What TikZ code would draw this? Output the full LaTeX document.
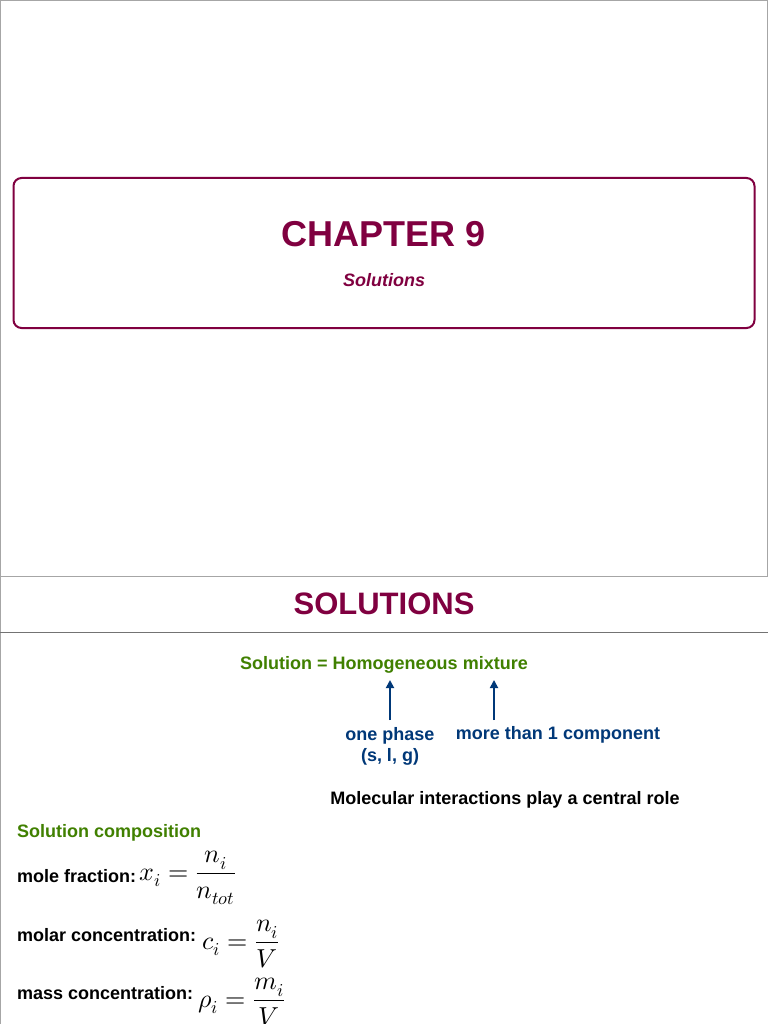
\documentclass[tikz,border=0pt]{standalone}
\usepackage{fontspec}
\setmainfont{Liberation Sans}
\usepackage{amsmath}
\usepackage{unicode-math}
\setmathfont{Latin Modern Math}
\usetikzlibrary{arrows.meta}
\definecolor{maroon}{RGB}{128,0,64}
\definecolor{grn}{RGB}{64,128,0}
\definecolor{navy}{RGB}{0,56,120}
\tikzset{
  txt/.style={font=\bfseries\fontsize{18}{21}\selectfont, inner sep=0pt},
  gtxt/.style={txt, text=grn},
  btxt/.style={txt, text=navy, align=center},
  ktxt/.style={txt, text=black, anchor=west},
  mth/.style={font=\fontsize{26}{30}\selectfont, inner sep=0pt, anchor=west},
  arr/.style={navy, line width=1.8pt, -{Triangle[length=8pt,width=8pt]}}
}
\begin{document}
\begin{tikzpicture}[x=1pt,y=-1pt]
\useasboundingbox (0,0) rectangle (768,1024);
\clip (0,0) rectangle (768,1024);
\fill[white] (0,0) rectangle (768,1024);
\draw[gray!70, line width=0.8pt] (0.5,1024) -- (0.5,0.5) -- (767.5,0.5) -- (767.5,576);
\draw[gray!70, line width=0.8pt] (0,576.5) -- (768,576.5);
\draw[gray!90!black, line width=1.5pt] (0,632.5) -- (768,632.5);
\node[draw=maroon, line width=2pt, rounded corners=8pt, minimum width=741pt, minimum height=150pt, inner sep=0pt] (box) at (384,253) {};
\node[inner sep=0pt, text=maroon, font=\bfseries\fontsize{36}{40}\selectfont] (ch) at (384,234) {CHAPTER 9};
\node[inner sep=0pt, text=maroon, font=\bfseries\itshape\fontsize{18}{21}\selectfont] (sub) at (384,280) {Solutions};
\node[inner sep=0pt, text=maroon, font=\bfseries\fontsize{31}{36}\selectfont] (sol) at (384,604) {SOLUTIONS};
\node[gtxt] (def) at (384,665) {Solution = Homogeneous mixture};
\coordinate (t1) at (390,680);
\coordinate (t2) at (494,680);
\node[btxt] (ph) at (390,746) {one phase\\(s, l, g)};
\node[btxt] (mc) at (558,735) {more than 1 component};
\draw[arr] (390,720) -- (t1);
\draw[arr] (494,720) -- (t2);
\node[txt] (mol) at (505,800) {Molecular interactions play a central role};
\node[gtxt, anchor=west] (comp) at (17,833) {Solution composition};
\node[ktxt] (l1) at (17,876) {mole fraction:};
\node[mth] (f1) at (139,878) {$x_i = \dfrac{n_i}{n_{tot}}$};
\node[ktxt] (l2) at (17,935) {molar concentration:};
\node[mth] (f2) at (202,944) {$c_i = \dfrac{n_i}{V}$};
\node[ktxt] (l3) at (17,993) {mass concentration:};
\node[mth] (f3) at (198,1002) {$\rho_i = \dfrac{m_i}{V}$};
\end{tikzpicture}
\end{document}
